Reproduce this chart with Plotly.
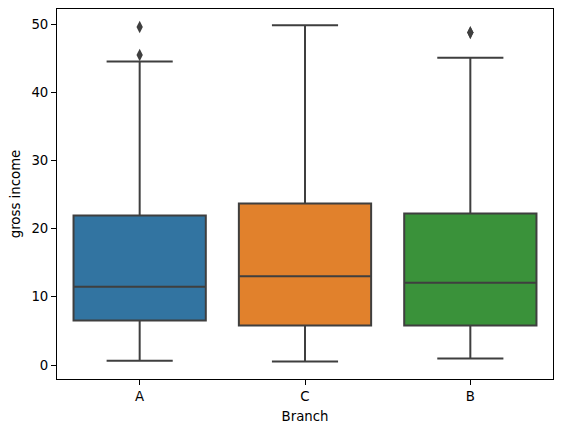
import plotly.graph_objects as go

# box statistics per branch
branches = ["A", "C", "B"]
q1 = [6.54, 5.80, 5.80]
median = [11.48, 13.00, 12.07]
q3 = [21.94, 23.70, 22.23]
lower_fence = [0.63, 0.53, 0.97]
upper_fence = [44.50, 49.80, 45.06]
colors = ["#3274a1", "#e1812c", "#3a923a"]

outlier_branch = ["A", "A", "B", "B"]
outlier_value = [49.56, 45.45, 48.70, 48.78]

LINE = "#3f3f3f"

fig = go.Figure()
for i, b in enumerate(branches):
    fig.add_trace(go.Box(
        x=[b], q1=[q1[i]], median=[median[i]], q3=[q3[i]],
        lowerfence=[lower_fence[i]], upperfence=[upper_fence[i]],
        fillcolor=colors[i], line=dict(color=LINE, width=2),
        width=0.8, whiskerwidth=0.5, boxpoints=False, showlegend=False,
    ))

fig.add_trace(go.Scatter(
    x=outlier_branch, y=outlier_value, mode="markers",
    marker=dict(symbol="diamond-tall", size=9, color=LINE),
    showlegend=False,
))

FS = 13.3
axis_common = dict(
    showline=True, linecolor="black", linewidth=1, mirror=True,
    ticks="outside", ticklen=5, tickcolor="black", showgrid=False,
    zeroline=False, tickfont=dict(size=FS, color="black"),
)
# page body has an 8px margin, so the figure is a bit smaller than the window
fig.update_layout(
    width=554, height=424,
    margin=dict(l=49, r=9, t=1, b=53),
    paper_bgcolor="white", plot_bgcolor="white",
    font=dict(family="DejaVu Sans", size=FS, color="black"),
    xaxis=dict(axis_common, type="category", categoryorder="array",
               categoryarray=branches, range=[-0.5, 2.5],
               title=dict(text="Branch", standoff=8, font=dict(size=FS))),
    yaxis=dict(axis_common, range=[-2.05, 52.2], tickvals=[0, 10, 20, 30, 40, 50],
               title=dict(text="gross income", standoff=8, font=dict(size=FS))),
)

fig.write_html("out.html")
